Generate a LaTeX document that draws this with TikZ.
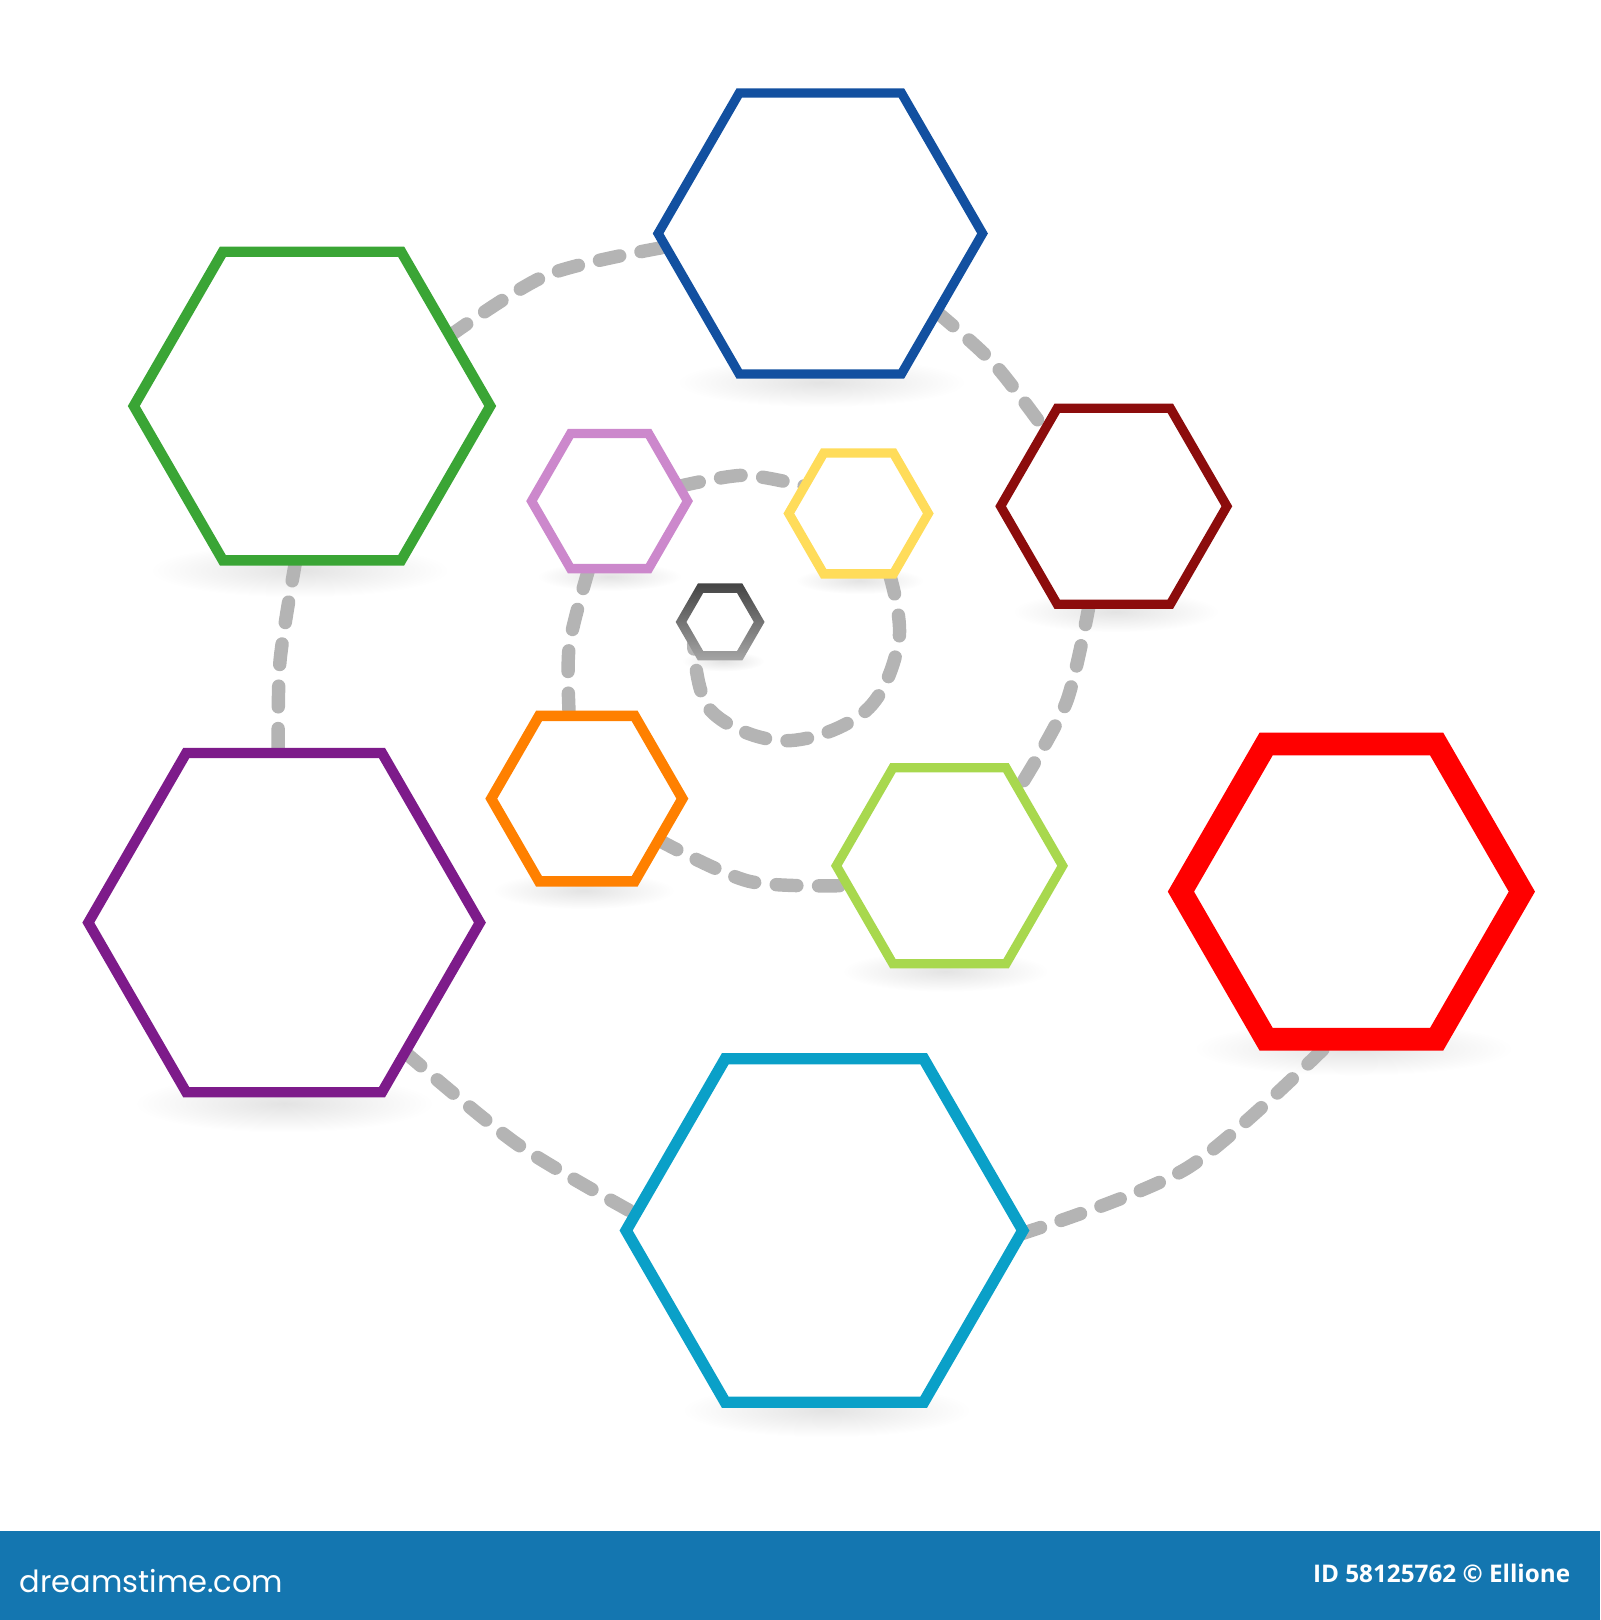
\documentclass[tikz,border=0pt]{standalone}
\usepackage{fontspec}
\usetikzlibrary{shapes.geometric}
\newfontfamily\logofont{Poppins}
\newfontfamily\idfont{Open Sans}
\definecolor{cblue}{RGB}{18,80,160}
\definecolor{cgreen}{RGB}{58,165,53}
\definecolor{cdarkred}{RGB}{140,12,12}
\definecolor{cpink}{RGB}{204,136,204}
\definecolor{cyellow}{RGB}{255,220,90}
\definecolor{corange}{RGB}{255,128,0}
\definecolor{clime}{RGB}{168,216,78}
\definecolor{cred}{RGB}{255,0,0}
\definecolor{cpurple}{RGB}{125,27,138}
\definecolor{ccyan}{RGB}{10,160,200}
\definecolor{cdash}{RGB}{180,180,180}
\definecolor{cbar}{RGB}{20,118,176}
\definecolor{cdark}{RGB}{68,68,68}
\definecolor{clight}{RGB}{165,165,165}
\tikzset{
  hexnode/.style={shape=regular polygon, regular polygon sides=6, inner sep=0pt, outer sep=0pt, fill=white, line join=miter},
  link/.style={draw=cdash, line width=13pt, line cap=round, dash pattern=on 20pt off 21pt},
  shadowell/.style={inner color=black!11, outer color=white}
}
\begin{document}
\begin{tikzpicture}[x=1pt,y=-1pt]
\useasboundingbox (0,0) rectangle (1549,1568);
% shadows
\shade[shadowell] (795,370) ellipse [x radius=140, y radius=24];
\shade[shadowell] (290,552) ellipse [x radius=145, y radius=26];
\shade[shadowell] (275,1068) ellipse [x radius=145, y radius=28];
\shade[shadowell] (800,1365) ellipse [x radius=140, y radius=26];
\shade[shadowell] (1310,1015) ellipse [x radius=155, y radius=26];
\shade[shadowell] (915,940) ellipse [x radius=100, y radius=20];
\shade[shadowell] (1080,592) ellipse [x radius=100, y radius=20];
\shade[shadowell] (565,862) ellipse [x radius=88, y radius=18];
\shade[shadowell] (590,558) ellipse [x radius=70, y radius=14];
\shade[shadowell] (832,562) ellipse [x radius=62, y radius=13];
\shade[shadowell] (700,640) ellipse [x radius=40, y radius=10];
% node positions (for anchors)
\path
  node[hexnode, fill=none, minimum size=314pt] (blue) at (794,226) {}
  node[hexnode, fill=none, minimum size=345pt] (green) at (302,393) {}
  node[hexnode, fill=none, minimum size=219pt] (darkred) at (1078,490) {}
  node[hexnode, fill=none, minimum size=151pt] (pink) at (590,485) {}
  node[hexnode, fill=none, minimum size=135pt] (yellow) at (831,497) {}
  node[hexnode, fill=none, minimum size=76pt] (core) at (697,602) {}
  node[hexnode, fill=none, minimum size=185pt] (orange) at (568,773) {}
  node[hexnode, fill=none, minimum size=219pt] (lime) at (919,838) {}
  node[hexnode, fill=none, minimum size=330pt] (red) at (1308,863) {}
  node[hexnode, fill=none, minimum size=379pt] (purple) at (275,893) {}
  node[hexnode, fill=none, minimum size=384pt] (cyan) at (798,1191) {};
% connectors
\draw[link] plot[smooth] coordinates {(green.27) (530,266) (blue.185)};
\draw[link] plot[smooth] coordinates {(blue.-34) (962,352) (darkred.132)};
\draw[link] plot[smooth] coordinates {(darkred.-104) (1032,680) (lime.48)};
\draw[link] plot[smooth] coordinates {(green.-96) (271,640) (purple.92)};
\draw[link] plot[smooth] coordinates {(purple.-47) (500,1107) (cyan.175)};
\draw[link] plot[smooth] coordinates {(cyan.-1) (1150,1130) (red.-97)};
\draw[link] plot[smooth] coordinates {(pink.12) (720,460) (yellow.153)};
\draw[link] plot[smooth] coordinates {(pink.-107) (551,625) (orange.102)};
\draw[link] plot[smooth] coordinates {(orange.-30) (725,853) (lime.191)};
\draw[link] plot[smooth, tension=0.6] coordinates {(yellow.-63) (870,620) (838,688) (760,717) (688,688) (core.-140)};
% hexagons
\node[hexnode, draw=cblue, line width=9pt, minimum size=314pt] at (blue) {};
\node[hexnode, draw=cgreen, line width=10pt, minimum size=345pt] at (green) {};
\node[hexnode, draw=cdarkred, line width=9pt, minimum size=219pt] at (darkred) {};
\node[hexnode, draw=cpink, line width=9pt, minimum size=151pt] at (pink) {};
\node[hexnode, draw=cyellow, line width=9pt, minimum size=135pt] at (yellow) {};
\node[hexnode, draw=corange, line width=10pt, minimum size=185pt] at (orange) {};
\node[hexnode, draw=clime, line width=9pt, minimum size=219pt] at (lime) {};
\node[hexnode, draw=cred, line width=22pt, minimum size=330pt] at (red) {};
\node[hexnode, draw=cpurple, line width=10pt, minimum size=379pt] at (purple) {};
\node[hexnode, draw=ccyan, line width=11pt, minimum size=384pt] at (cyan) {};
\node[hexnode, minimum size=76pt] at (core) {};
\begin{scope}[shift={(core.center)}]
\shade[top color=cdark, middle color=cdark!92!white, bottom color=clight, even odd rule]
  (0:43) -- (60:43) -- (120:43) -- (180:43) -- (240:43) -- (300:43) -- cycle
  (0:32.6) -- (60:32.6) -- (120:32.6) -- (180:32.6) -- (240:32.6) -- (300:32.6) -- cycle;
\end{scope}
% bottom bar
\fill[cbar] (0,1482) rectangle (1549,1568);
\node[anchor=base west, text=white, inner sep=0pt, font=\logofont\fontsize{29.5pt}{29.5pt}\selectfont] (logo) at (19,1541) {dreamstime.com};
\node[anchor=base east, text=white, inner sep=0pt, font=\idfont\bfseries\fontsize{23.5pt}{23.5pt}\selectfont] (credit) at (1520,1532) {ID 58125762 © Ellione};
\end{tikzpicture}
\end{document}
